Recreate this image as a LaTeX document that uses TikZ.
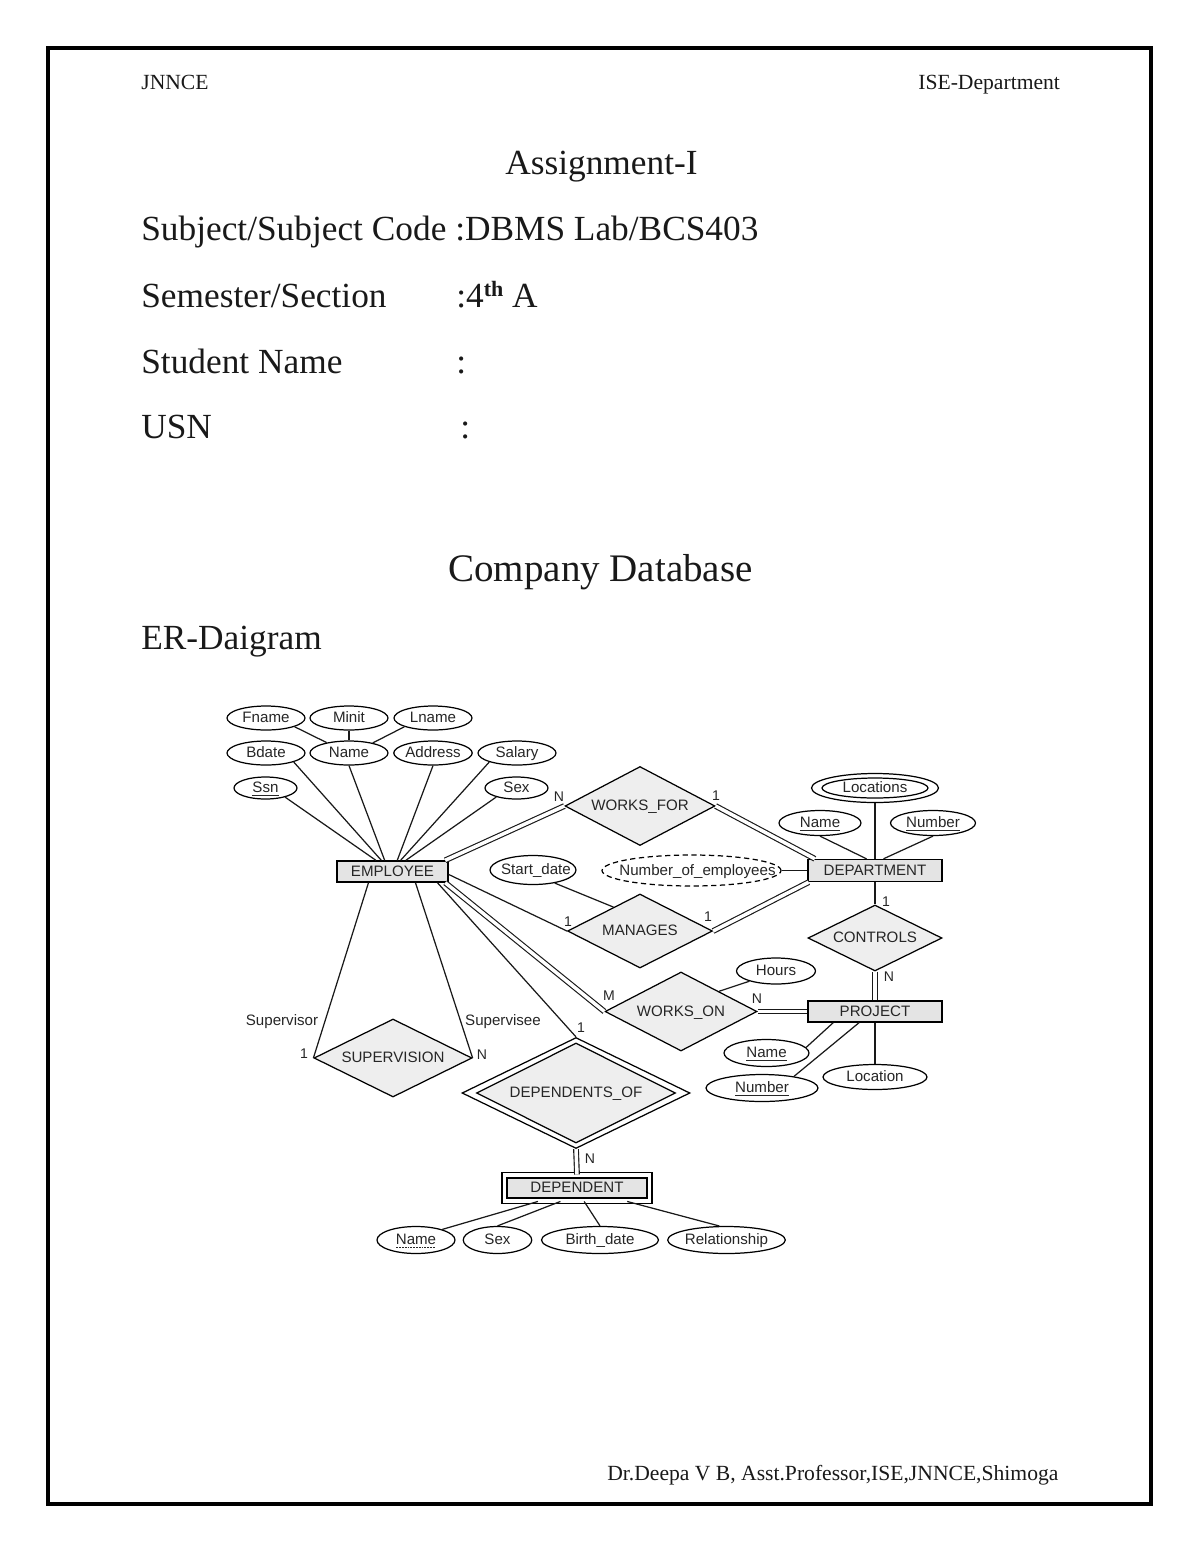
\documentclass[tikz,border=0pt]{standalone}
\usepackage{fontspec}
\setmainfont{Liberation Serif}
\newfontfamily\labelfont{Liberation Sans}
\usepackage{tikz}
\usetikzlibrary{shapes.geometric}
\definecolor{shadeent}{HTML}{E4E4E4}
\definecolor{shaderel}{HTML}{EEEEEE}
\newcommand{\sizehead}{\fontsize{12.3pt}{14pt}\selectfont}
\newcommand{\sizeline}{\fontsize{20.1pt}{24pt}\selectfont}
\newcommand{\sizetitle}{\fontsize{22.2pt}{26pt}\selectfont}
\newcommand{\dashunder}[1]{\setbox0\hbox{#1}\rlap{#1}\raisebox{-1.6pt}{\hbox to \wd0{\leaders\hbox to 1.6pt{\hss\vrule width 1pt height .4pt\hss}\hfill}}}
\tikzstyle{pageline}=[anchor=base west, inner sep=0pt, text=black!90]
\tikzstyle{shapetext}=[inner sep=0pt, text height=6.8pt, text depth=1.2pt, text=black!85, font=\labelfont\fontsize{8.6pt}{10pt}\selectfont]
\tikzstyle{attr}=[ellipse, draw, line width=0.7pt, shapetext, fill=white, minimum width=1.56cm, minimum height=0.48cm]
\tikzstyle{entity}=[rectangle, draw, line width=0.8pt, shapetext, fill=shadeent]
\tikzstyle{relation}=[diamond, aspect=2, draw, line width=0.7pt, shapetext, fill=shaderel]
\tikzstyle{card}=[inner sep=0pt, text=black!85, font=\labelfont\fontsize{8pt}{10pt}\selectfont]
\tikzstyle{single}=[draw=black!90, line width=0.7pt]
\tikzstyle{total}=[draw=black!90, line width=0.65pt, double, double distance=2pt]

\begin{document}
\begin{tikzpicture}[x=0.02cm, y=-0.02cm]
	\useasboundingbox (0, 0) rectangle (1200, 1553);
	\draw [line width=2.3pt] (48, 48) rectangle (1151, 1504);
	\begin{scope}
		\node (college) at (141, 89)[pageline, font=\sizehead] {JNNCE};
		\node (dept) at (918, 89)[pageline, font=\sizehead] {ISE-Department};
		\node (assign) at (505, 174)[pageline, font=\sizeline] {Assignment-I};
		\node (subject) at (141, 240)[pageline, font=\sizeline] {Subject/Subject Code :DBMS Lab/BCS403};
		\node (semester) at (141, 307)[pageline, font=\sizeline] {Semester/Section};
		\node (semesterval) at (456, 307)[pageline, font=\sizeline] {:4\raisebox{0.62ex}{\fontsize{12.5pt}{14pt}\selectfont\textbf{th}} A};
		\node (student) at (141, 373)[pageline, font=\sizeline] {Student Name};
		\node (studentval) at (456, 373)[pageline, font=\sizeline] {:};
		\node (usn) at (141, 438)[pageline, font=\sizeline] {USN};
		\node (usnval) at (460, 438)[pageline, font=\sizeline] {:};
		\node (company) at (448, 581)[pageline, font=\sizetitle] {Company Database};
		\node (erhead) at (141, 649)[pageline, font=\sizeline] {ER-Daigram};
		\node (footer) at (607, 1480)[pageline, font=\sizehead] {Dr.Deepa V B, Asst.Professor,ISE,JNNCE,Shimoga};
	\end{scope}
	\begin{scope}
		\node (employee) at (392.5, 871.5)[entity, minimum width=2.22cm, minimum height=0.42cm] {EMPLOYEE};
		\node (department) at (875, 870.5)[entity, minimum width=2.68cm, minimum height=0.44cm] {DEPARTMENT};
		\node (project) at (875, 1011.5)[entity, minimum width=2.68cm, minimum height=0.42cm] {PROJECT};
		\node (dependent) at (577, 1188)[entity, double, double distance=2.2pt, minimum width=2.9cm, minimum height=0.51cm] {DEPENDENT};

		\node (worksfor) at (640, 806)[relation, minimum width=3cm, minimum height=1.58cm] {WORKS\_FOR};
		\node (manages) at (640, 931)[relation, minimum width=2.9cm, minimum height=1.48cm] {MANAGES};
		\node (controls) at (875, 938)[relation, minimum width=2.68cm, minimum height=1.32cm] {CONTROLS};
		\node (workson) at (681, 1011.5)[relation, minimum width=3.04cm, minimum height=1.58cm] {WORKS\_ON};
		\node (supervision) at (393, 1058)[relation, minimum width=3.16cm, minimum height=1.56cm] {SUPERVISION};
		\node (dependsouter) at (576, 1093)[relation, fill=white, minimum width=4.56cm, minimum height=2.22cm] {};
		\node (depends) at (576, 1093)[relation, minimum width=3.98cm, minimum height=2cm] {DEPENDENTS\_OF};

		\node (fname) at (266, 718)[attr] {Fname};
		\node (minit) at (349, 718)[attr] {Minit};
		\node (lname) at (433, 718)[attr] {Lname};
		\node (bdate) at (266, 753)[attr] {Bdate};
		\node (name) at (349, 753)[attr] {Name};
		\node (address) at (433, 753)[attr] {Address};
		\node (salary) at (517, 753)[attr] {Salary};
		\node (ssn) at (265.5, 788)[attr, minimum width=1.26cm, minimum height=0.44cm] {\underline{Ssn}};
		\node (sex) at (516.5, 788)[attr, minimum width=1.26cm, minimum height=0.44cm] {Sex};
		\node (startdate) at (533, 870)[attr, minimum width=1.72cm, minimum height=0.58cm] {\hspace*{3.4pt}\makebox[0pt]{Start\_date}};
		\node (noemployees) at (691.5, 870.5)[attr, densely dashed, minimum width=3.58cm, minimum height=0.62cm] {\hspace*{6.8pt}\makebox[0pt]{Number\_of\_employees}};
		\node (locationsouter) at (875, 788)[attr, minimum width=2.54cm, minimum height=0.58cm] {};
		\node (locations) at (875, 788)[attr, minimum width=2.12cm, minimum height=0.4cm] {Locations};
		\node (deptname) at (820, 823)[attr, minimum width=1.64cm, minimum height=0.5cm] {\underline{Name}};
		\node (deptnumber) at (933, 823)[attr, minimum width=1.7cm, minimum height=0.5cm] {\underline{Number}};
		\node (hours) at (776, 971)[attr, minimum width=1.58cm, minimum height=0.52cm] {Hours};
		\node (projname) at (766.5, 1053)[attr, minimum width=1.7cm, minimum height=0.54cm] {\underline{Name}};
		\node (projnumber) at (762, 1088)[attr, minimum width=2.24cm, minimum height=0.54cm] {\underline{Number}};
		\node (location) at (875, 1077)[attr, minimum width=2.08cm, minimum height=0.5cm] {Location};
		\node (depname) at (416, 1240)[attr, minimum height=0.54cm] {\dashunder{Name}};
		\node (depsex) at (497.5, 1240)[attr, minimum width=1.37cm, minimum height=0.54cm] {Sex};
		\node (birthdate) at (600, 1240)[attr, minimum width=2.34cm, minimum height=0.54cm] {Birth\_date};
		\node (relationship) at (726.5, 1240)[attr, minimum width=2.34cm, minimum height=0.54cm] {Relationship};
	\end{scope}
	\begin{scope}
		\node (cardworksn) at (559, 797)[card] {N};
		\node (cardworks1) at (716, 796)[card] {1};
		\node (cardman1) at (568, 922)[card] {1};
		\node (cardman2) at (708, 917)[card] {1};
		\node (cardcon1) at (886, 902)[card] {1};
		\node (cardconn) at (889, 977)[card] {N};
		\node (cardonm) at (609, 996)[card] {M};
		\node (cardonn) at (757, 999)[card] {N};
		\node (carddep1) at (581, 1028)[card] {1};
		\node (carddepn) at (590, 1159)[card] {N};
		\node (cardsup1) at (304, 1054)[card] {1};
		\node (cardsupn) at (482, 1055)[card] {N};
		\node (supervisor) at (282, 1022)[card, font=\labelfont\fontsize{8.6pt}{10pt}\selectfont] {Supervisor};
		\node (supervisee) at (503, 1022)[card, font=\labelfont\fontsize{8.6pt}{10pt}\selectfont] {Supervisee};
	\end{scope}
	\begin{scope}
		\path [-] (fname.-17) edge[single] (name.155);
		\path [-] (minit.south) edge[single] (name.north);
		\path [-] (lname.197) edge[single] (name.23);
		\path [-] (ssn.-25) edge[single] (employee.146);
		\path [-] (bdate.-18) edge[single] (employee.135);
		\path [-] (name.south) edge[single] (employee.125);
		\path [-] (address.south) edge[single] (employee.67);
		\path [-] (salary.198) edge[single] (employee.54);
		\path [-] (sex.204) edge[single] (employee.40);
		\path [-] (employee.12) edge[total] (worksfor.west);
		\path [-] (worksfor.east) edge[total] (department.169);
		\path [-] (employee.-3) edge[single] (manages.west);
		\path [-] (manages.east) edge[total] (department.190);
		\path [-] (startdate.-31) edge[single] (manages.138);
		\path [-] (noemployees.east) edge[single] (department.west);
		\path [-] (locationsouter.south) edge[single] (department.north);
		\path [-] (deptname.south) edge[single] (department.126);
		\path [-] (deptnumber.south) edge[single] (department.54);
		\path [-] (department.south) edge[single] (controls.north);
		\path [-] (controls.south) edge[total] (project.north);
		\path [-] (employee.-12) edge[total] (workson.west);
		\path [-] (workson.east) edge[total] (project.west);
		\path [-] (hours.201) edge[single] (workson.28);
		\path [-] (projname.8) edge[single] (project.195);
		\path [-] (projnumber.20) edge[single] (project.215);
		\path [-] (project.south) edge[single] (location.north);
		\path [-] (employee.205) edge[single] (supervision.west);
		\path [-] (employee.-26) edge[single] (supervision.east);
		\path [-] (employee.-14) edge[single] (dependsouter.north);
		\path [-] (dependsouter.south) edge[total] (dependent.north);
		\path [-] (depname.22) edge[single] (dependent.199);
		\path [-] (depsex.north) edge[single] (dependent.219);
		\path [-] (birthdate.north) edge[single] (dependent.-62);
		\path [-] (relationship.117) edge[single] (dependent.-15);
	\end{scope}
\end{tikzpicture}
\end{document}
